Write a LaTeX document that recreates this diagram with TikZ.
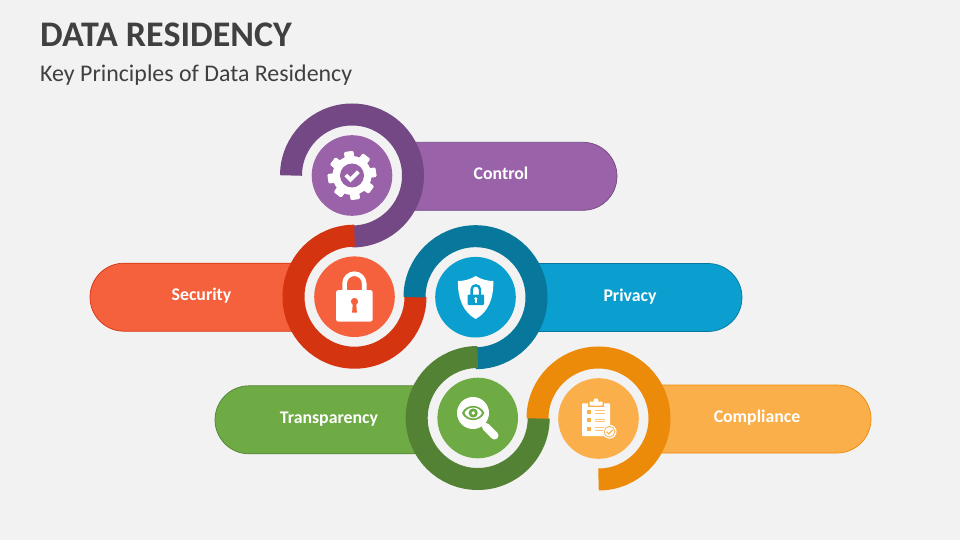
\documentclass[tikz,border=0pt]{standalone}
\usepackage{fontspec}
\setmainfont{Carlito}
\definecolor{bgc}{HTML}{F2F2F2}
\definecolor{txt}{HTML}{404040}
\definecolor{purL}{HTML}{9A62A8}
\definecolor{purD}{HTML}{744884}
\definecolor{redL}{HTML}{F5603D}
\definecolor{redD}{HTML}{D4340F}
\definecolor{bluL}{HTML}{0A9FCE}
\definecolor{bluD}{HTML}{07779C}
\definecolor{grnL}{HTML}{6EAB44}
\definecolor{grnD}{HTML}{548235}
\definecolor{ornL}{HTML}{FBAF4B}
\definecolor{ornD}{HTML}{EC8A09}
\tikzset{
  pill/.style={line width=0.7pt},
  ringarc/.style={line width=22pt,line cap=butt},
  lbl/.style={text=white,font=\fontsize{17.8}{20}\selectfont\bfseries,anchor=base,inner sep=0pt},
  ttl/.style={text=txt,anchor=base west,inner sep=0pt},
}
% right-ended pill: xstart, xtip-centre, ytop, ybottom (radius 34)
\newcommand{\pillR}[5]{\path[pill,fill=#4,draw=#5] (#1,#3) -- (#2,#3) arc[start angle=90,end angle=-90,radius=34pt] -- (#1,-34+#3-34) -- cycle;}
\newcommand{\pillL}[5]{\path[pill,fill=#4,draw=#5] (#1,#3) -- (#2,#3) arc[start angle=90,end angle=270,radius=34pt] -- (#1,-34+#3-34) -- cycle;}
% ring arc: cx, cy, start angle, end angle, colour
\newcommand{\ringseg}[5]{\draw[ringarc,#5] ([shift={(#3:61pt)}]#1,#2) arc[start angle=#3,end angle=#4,radius=61pt];}
\begin{document}
\begin{tikzpicture}[x=1pt,y=1pt]
\useasboundingbox (0,0) rectangle (960,-540);
\fill[bgc] (0,0) rectangle (960,-540);
\node[ttl,font=\fontsize{36}{40}\selectfont\bfseries] (title) at (40,-46.6) {DATA RESIDENCY};
\node[ttl,font=\fontsize{23.9}{28}\selectfont] (subtitle) at (40,-81.8) {Key Principles of Data Residency};

% pills
\pillR{404}{583}{-142.3}{purL}{purD}
\pillL{302.5}{124}{-263.2}{redL}{redD}
\pillR{527.5}{708}{-263.5}{bluL}{bluD}
\pillL{425.7}{249}{-385.8}{grnL}{grnD}
\pillR{650.5}{837}{-385}{ornL}{ornD}

% rings
\ringseg{352}{-175.5}{180}{-90}{purD}
\ringseg{354.5}{-296.7}{90}{360}{redD}
\ringseg{475.5}{-297.2}{180}{-90}{bluD}
\ringseg{477.7}{-418}{90}{360}{grnD}
\ringseg{598.5}{-418.5}{180}{-90}{ornD}

% discs
\fill[purL] (352,-175.5) circle[radius=40.3pt];
\fill[redL] (354.5,-296.7) circle[radius=40.3pt];
\fill[bluL] (475.5,-297.2) circle[radius=40.3pt];
\fill[grnL] (477.7,-418) circle[radius=40.3pt];
\fill[ornL] (598.5,-418.5) circle[radius=40.3pt];

% gear icon
\begin{scope}[shift={(352,-175.5)}]
  \fill[white] (0,0) circle[radius=19.5pt];
  \foreach \a in {8,53,98,143,188,233,278,323}
    \fill[white,rounded corners=1.2pt,rotate=\a] (15,-4.8) rectangle (24.3,4.8);
  \fill[purL] (0,0) circle[radius=12pt];
  \draw[white,line width=3.8pt,line join=miter] (-6.2,0.4) -- (-1.6,-4.2) -- (6.4,3.8);
\end{scope}

% padlock icon
\fill[white,rounded corners=2.5pt] (336,-290) rectangle (372.7,-321.7);
\draw[white,line width=4.6pt] (344.6,-291) -- (344.6,-283.5) arc[start angle=180,end angle=0,radius=9.8pt] -- (364.2,-291);
\fill[redL] (354.5,-301.5) circle[radius=3.6pt];
\fill[redL] (352.9,-302) -- (356.1,-302) -- (356.9,-312.6) -- (352.1,-312.6) -- cycle;

% shield icon
\fill[white] (475.7,-276) .. controls (470,-279.5) and (464,-281) .. (458,-281)
  .. controls (457.5,-298) and (463,-312) .. (475.7,-319)
  .. controls (488.4,-312) and (493.8,-298) .. (493.3,-281)
  .. controls (487.4,-281) and (481.4,-279.5) .. (475.7,-276) -- cycle;
\fill[bluL,rounded corners=0.8pt] (467.7,-294.5) rectangle (484,-305);
\draw[bluL,line width=2.4pt] (471.6,-295) -- (471.6,-289.5) arc[start angle=180,end angle=0,radius=4.2pt] -- (480,-295);
\fill[white] (475.8,-298.8) circle[radius=1.7pt];
\fill[white] (475,-299) rectangle (476.6,-302.6);

% magnifier icon
\draw[white,line width=3pt] (478.5,-418.5) -- (482,-422);
\draw[white,line width=8pt,line cap=round] (486,-427) -- (494.5,-435.5);
\fill[white] (473,-413) circle[radius=16pt];
\fill[grnL] (462,-413) .. controls (466,-403.5) and (480,-403.5) .. (484.4,-413)
  .. controls (480,-422.5) and (466,-422.5) .. (462,-413) -- cycle;
\fill[white] (464.5,-413) .. controls (468,-405.8) and (478.4,-405.8) .. (481.9,-413)
  .. controls (478.4,-420.2) and (468,-420.2) .. (464.5,-413) -- cycle;
\fill[grnL] (473.2,-413) circle[radius=4.6pt];
\fill[white] (473.2,-413) circle[radius=1.9pt];

% clipboard icon
\fill[white,rounded corners=0.8pt] (582,-403.3) rectangle (610,-436);
\fill[ornL] (588.3,-402.5) rectangle (603.7,-406.7);
\fill[white,rounded corners=0.8pt] (589.5,-401.5) rectangle (602.5,-405.6);
\fill[white] (596,-400.8) circle[radius=2.5pt];
\foreach \yy in {-412,-420.3,-429}{
  \fill[ornL] (587.2,\yy+2) rectangle (591,\yy-2);
  \fill[ornL!75!white] (595,\yy+1.6) rectangle (605,\yy+0.7);
  \fill[ornL!75!white] (595,\yy-1.1) rectangle (605,\yy-2);
}
\fill[white] (609.5,-431.7) circle[radius=7pt];
\draw[ornL,line width=0.8pt] (609.5,-431.7) circle[radius=5.4pt];
\draw[ornL,line width=1.1pt] (606.6,-431.6) -- (608.8,-434) -- (612.7,-429.8);

% labels
\node[lbl] (control) at (501,-179.4) {Control};
\node[lbl] (security) at (201.5,-300.4) {Security};
\node[lbl] (privacy) at (630,-301.3) {Privacy};
\node[lbl] (transparency) at (329,-423.4) {Transparency};
\node[lbl] (compliance) at (757,-422.4) {Compliance};
\end{tikzpicture}
\end{document}
